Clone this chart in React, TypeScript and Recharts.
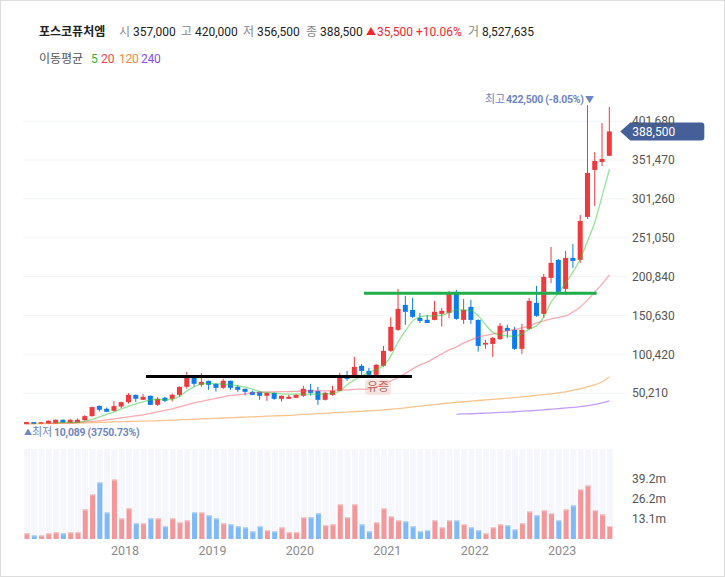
import {
  Bar,
  CartesianGrid,
  ComposedChart,
  Line,
  ReferenceDot,
  ReferenceLine,
  XAxis,
  YAxis,
} from "recharts";

// monthly candles, Nov 2016 - Jul 2023, prices in thousands of won
const months = [
  "2016-11", "2016-12",
  "2017-01", "2017-02", "2017-03", "2017-04", "2017-05", "2017-06", "2017-07", "2017-08", "2017-09", "2017-10", "2017-11", "2017-12",
  "2018-01", "2018-02", "2018-03", "2018-04", "2018-05", "2018-06", "2018-07", "2018-08", "2018-09", "2018-10", "2018-11", "2018-12",
  "2019-01", "2019-02", "2019-03", "2019-04", "2019-05", "2019-06", "2019-07", "2019-08", "2019-09", "2019-10", "2019-11", "2019-12",
  "2020-01", "2020-02", "2020-03", "2020-04", "2020-05", "2020-06", "2020-07", "2020-08", "2020-09", "2020-10", "2020-11", "2020-12",
  "2021-01", "2021-02", "2021-03", "2021-04", "2021-05", "2021-06", "2021-07", "2021-08", "2021-09", "2021-10", "2021-11", "2021-12",
  "2022-01", "2022-02", "2022-03", "2022-04", "2022-05", "2022-06", "2022-07", "2022-08", "2022-09", "2022-10", "2022-11", "2022-12",
  "2023-01", "2023-02", "2023-03", "2023-04", "2023-05", "2023-06", "2023-07",
];
const opens = [
  10.1, 12.8, 10.3, 10.6, 11, 15.8, 11.9, 11.9, 15.4, 20.5, 33.8, 30, 27.4, 32.9, 38.6, 48, 41.6, 46.8, 35.1, 44.2, 42.9,
  48, 58.4, 70, 61, 66.1, 62.3, 57.1, 66.1, 58.4, 55.8, 51.9, 51.9, 46.8, 50.6, 42.9, 42.9, 44.2, 46.8, 54.5, 53.2,
  41.6, 48, 53.2, 72.2, 71.3, 85.5, 79, 73.9, 85.5, 104.9, 132, 164.3, 157.8, 147.5, 144.9, 144.9, 152.7, 154, 181.1, 144.9,
  161.7, 144.9, 113, 113.8, 120, 134.6, 132, 107.5, 133.3, 166.9, 152.7, 199.2, 222.4, 185, 225, 222.4, 278, 338.7, 349, 357,
];
const highs = [
  13, 13, 13, 15, 16.2, 16.2, 16.3, 17.5, 21.8, 32.8, 34.2, 31.6, 39.9, 39.2, 50.2, 48.5, 49, 47, 45, 45.5, 49.7,
  58.8, 77.8, 70.5, 76.1, 66.5, 62.8, 68.7, 66.5, 61, 56.2, 53.6, 52.3, 51, 51, 47.2, 48, 48.8, 59.7, 62.3, 58.4,
  52, 59.7, 76.5, 79, 97.1, 87.7, 82.9, 88.1, 111.3, 148.4, 185, 175.9, 173.3, 154, 151.4, 169.5, 160.4, 182.4, 183.7, 172,
  170.8, 145.5, 119.1, 123, 141, 138.5, 135.9, 139.8, 173.3, 188.8, 204.3, 239.2, 223.7, 234, 243.1, 280.6, 422.5, 361.9, 399.4, 420,
];
const lows = [
  10.1, 10.1, 10.2, 10.5, 10.8, 11.5, 11.5, 11.6, 14.5, 20, 26.5, 25.8, 26.5, 30.9, 36.8, 38.6, 41.2, 34.8, 33.8, 38.6, 39.4,
  45.5, 55.8, 58.8, 58.4, 54.5, 52.3, 55.8, 54.5, 51.9, 47.1, 47.5, 41.6, 40.3, 41.6, 39.4, 42.5, 43.5, 45.5, 47, 35.1,
  40.7, 46.8, 52.8, 66.1, 70.5, 73.9, 73.5, 73, 84.5, 103.6, 130.7, 138.5, 147.5, 141, 140.5, 144.3, 136.3, 147.5, 144.9, 139.8,
  139.8, 104, 107.5, 97.1, 119.1, 121.7, 106.2, 101, 132, 148.8, 147.5, 192.7, 180, 177.2, 212.1, 218.6, 275.4, 292.2, 343.8, 356.5,
];
const closes = [
  12.8, 10.3, 12.6, 14.5, 15.8, 11.9, 15.8, 15.8, 20.5, 32.2, 28.7, 26.1, 33.5, 38.6, 48, 42.9, 45.5, 35.1, 42.9, 40.3, 48,
  58.4, 70, 62.3, 64.8, 61, 57.1, 66.1, 57.1, 54.5, 51.9, 48, 46.8, 50.6, 42.9, 46.8, 45.5, 48, 55.8, 50.6, 41.6,
  50.6, 53.2, 70, 68.7, 84.2, 79, 73.9, 86.8, 104.9, 135.9, 159.1, 155.3, 148.8, 143.6, 141, 155.3, 156.6, 178.5, 146.2, 157.8,
  144.9, 111.3, 115.2, 121.7, 137.2, 130.7, 107.5, 132, 169.5, 150.1, 200.5, 218.6, 181.1, 225, 221.1, 272.8, 334.8, 350.3, 352.9, 388.5,
];

const ma5 = [
  null, null, null, null, 12.1, 12.5, 12.5, 12.8, 13.8, 16.4, 19.6, 22.9, 26.1, 30, 33.2, 36.4, 39, 41.6, 42.2, 41.6, 42.2,
  46.1, 53.2, 58.4, 62.3, 62.9, 62.3, 62, 61, 59.7, 58, 55.4, 52.3, 51, 50.2, 49.3, 49, 49, 49, 49.1, 49,
  49.3, 50, 53.2, 61, 67.4, 72.6, 77.1, 81, 85.5, 98.4, 116.5, 130.7, 143.6, 148.8, 150.1, 150.1, 150.7, 154.6, 157.8, 157.8,
  156.9, 150.1, 138.5, 128.8, 124.9, 124.3, 123.6, 126.8, 133.3, 137.2, 148.8, 168.2, 179.8, 192.7, 206.9, 223.7, 247, 271.5, 305.1, 340,
];
const ma20 = [
  null, null, null, 11.2, 11.9, 11.9, 11.9, 12.5, 13.2, 13.8, 14.5, 15.8, 17.1, 18.3, 19.6, 20.9, 22.2, 24.2, 26.1, 28, 30,
  32.6, 35.1, 37.7, 39.7, 41.6, 43.5, 45.5, 47.4, 48, 49.3, 50.6, 51.3, 51.9, 51.9, 52.3, 52.3, 52.6, 52.8, 53.2, 53.2,
  53.2, 53.9, 54.5, 54.5, 55.2, 55.4, 55.8, 58.4, 61.6, 66.1, 70.7, 75.8, 81.6, 86.8, 90.7, 95.8, 101, 106.2, 110, 115.2,
  119.1, 123, 124.9, 126.8, 128.8, 130.7, 132.7, 134.6, 137.2, 141, 143.6, 146.2, 148.2, 150.1, 155.3, 161.7, 170.8, 181.1, 191.4, 203,
];
const ma120 = [
  10.6, 10.6, 10.7, 10.9, 11, 11.1, 11.2, 11.5, 11.8, 12, 12.4, 12.8, 13, 13.3, 13.6, 13.8, 14.1, 14.3, 14.6, 15, 15.4,
  15.8, 16.1, 16.5, 16.9, 17.3, 17.7, 18.1, 18.5, 18.9, 19.3, 19.6, 20, 20.4, 20.8, 21.2, 21.6, 22.2, 22.7, 23.2, 23.7,
  24.2, 24.8, 25.3, 25.8, 26.3, 26.8, 27.4, 27.9, 28.5, 29.4, 30.3, 31.3, 32.4, 33.4, 34.4, 35.5, 36.5, 37.4, 38.3, 39.1,
  39.9, 40.7, 41.4, 42.2, 43, 43.8, 44.5, 45.3, 46.3, 47.4, 48.4, 49.4, 50.7, 52, 54, 55.9, 58.5, 61, 65, 71.4,
];
const ma240Tail = [
  22.9, 23.3, 23.6, 24, 24.4, 24.8, 25.3, 25.7, 26.2, 26.9, 27.4, 28, 28.7, 29.5, 30.2, 31.1, 31.9, 32.9, 34.1, 35.7, 37.7, 40.3,
];

// volume in millions of shares
const volumes = [
  3.7, 2.4, 2.4, 3.7, 4.4, 3.7, 4.4, 4.4, 19.4, 29.2, 37.1, 17.4, 39, 13.5, 20.1, 10.3, 10.3, 13.5, 13.5, 8.3, 13.5,
  10.9, 12.2, 17.4, 17.4, 15.5, 13.5, 10.3, 9.6, 8.3, 7.6, 5, 8.3, 5.7, 5, 7.6, 4.4, 4.4, 14.2, 14.2, 16.8,
  9, 9.6, 22.7, 14.2, 22.7, 9.6, 5, 10.9, 20.1, 14.8, 12.2, 11.6, 8.3, 5, 5.7, 12.2, 7.6, 12.2, 12.2, 9.6,
  7.6, 5.7, 3.7, 7.6, 9.6, 9, 6.3, 10.3, 18.1, 15.5, 18.8, 16.8, 12.2, 19.4, 22, 32.5, 35.1, 18.8, 16.1, 8.5,
];
const volumeDown = [
  0, 1, 0, 0, 0, 1, 0, 0, 0, 0, 1, 1, 0, 0, 0, 1, 0, 1, 0, 1, 0,
  0, 0, 1, 0, 1, 1, 0, 1, 1, 1, 1, 1, 0, 1, 0, 0, 0, 0, 1, 1,
  0, 0, 0, 0, 0, 1, 1, 0, 0, 0, 0, 1, 1, 1, 1, 0, 0, 0, 1, 0,
  1, 1, 0, 0, 0, 1, 1, 0, 0, 1, 0, 0, 1, 0, 1, 0, 0, 0, 0, 0,
];

const priceTicks = [50210, 100420, 150630, 200840, 251050, 301260, 351470, 401680];
const volumeTicks = [13.1, 26.2, 39.2];
const yearTicks = ["2018-01", "2019-01", "2020-01", "2021-01", "2022-01", "2023-01"];

const FONT = "Roboto, 'Noto Sans CJK KR', sans-serif";
const RED = "#ee3a3d";
const BLUE = "#0b7bef";
const LABEL_BLUE = "#6f86bf";

const priceData = months.map((month, i) => ({
  month,
  open: opens[i] * 1000,
  high: highs[i] * 1000,
  low: lows[i] * 1000,
  close: closes[i] * 1000,
  ma5: ma5[i] === null ? null : ma5[i] * 1000,
  ma20: ma20[i] === null ? null : ma20[i] * 1000,
  ma120: ma120[i] * 1000,
  ma240: i < months.length - ma240Tail.length ? null : ma240Tail[i - (months.length - ma240Tail.length)] * 1000,
}));

const volumeData = months.map((month, i) => ({
  month,
  volume: volumes[i],
  down: volumeDown[i] === 1,
}));

function Candle(props: any) {
  const { x, y, width, height, payload } = props;
  const { open, high, low, close } = payload;
  const perUnit = height / (high - low || 1);
  const top = y + (high - Math.max(open, close)) * perUnit;
  const bodyH = Math.max(Math.abs(open - close) * perUnit, 1);
  const color = close >= open ? RED : BLUE;
  return (
    <g>
      <rect x={x + width / 2 - 0.5} y={y} width={1} height={height} fill={color} />
      <rect x={x} y={top} width={width} height={bodyH} fill={color} />
    </g>
  );
}

function VolumeBar(props: any) {
  const { x, y, width, height, payload } = props;
  const main = payload.down ? "#7fb9f8" : "#f4979a";
  const cap = payload.down ? "#bcdafb" : "#f9cccc";
  return (
    <g>
      <rect x={x + 0.5} y={y} width={width - 1} height={height} fill={main} />
      <rect x={x + 0.5} y={y} width={width - 1} height={1} fill={cap} />
    </g>
  );
}

function PriceTag(props: any) {
  const { cx, cy } = props;
  const left = cx - 7.7;
  return (
    <g>
      <path
        d={`M${left} ${cy} L${left + 10} ${cy - 9} H${left + 81} Q${left + 84} ${cy - 9} ${left + 84} ${cy - 6} V${cy + 6} Q${left + 84} ${cy + 9} ${left + 81} ${cy + 9} H${left + 10} Z`}
        fill="#455f99"
      />
      <text x={left + 12} y={cy + 4.5} fill="#fff" fontSize={12} fontFamily={FONT}>
        388,500
      </text>
    </g>
  );
}

function YearTick(props: any) {
  const { x, y, payload } = props;
  return (
    <text x={x - 3.6} y={y + 8} textAnchor="middle" fill="#8c8c8c" fontSize={12.5} fontFamily={FONT}>
      {payload.value.slice(0, 4)}
    </text>
  );
}

function Label(props: { left: number; top: number; color?: string; bold?: boolean; size?: number; tight?: number; children: any }) {
  return (
    <span
      style={{
        position: "absolute",
        left: props.left,
        top: props.top,
        color: props.color ?? "#222",
        fontWeight: props.bold ? 700 : 400,
        fontSize: props.size ?? 12,
        letterSpacing: props.tight ?? 0,
        lineHeight: "16px",
        whiteSpace: "nowrap",
      }}
    >
      {props.children}
    </span>
  );
}

export default function App() {
  return (
    <div
      style={{
        position: "absolute",
        left: 0,
        top: 0,
        width: 725,
        height: 577,
        boxSizing: "border-box",
        border: "1px solid #dddddd",
        overflow: "hidden",
        background: "#fff",
        fontFamily: FONT,
      }}
    >
      <div style={{ position: "absolute", left: -1, top: -1, width: 725, height: 577 }}>
        <ComposedChart
          width={725}
          height={440}
          data={priceData}
          margin={{ top: 100, right: 0, bottom: 8, left: 23 }}
          style={{ position: "absolute", left: 0, top: 0 }}
        >
          <CartesianGrid vertical={false} stroke="#f2f4f8" horizontalValues={priceTicks} />
          <XAxis dataKey="month" hide padding={{ left: 0, right: 14.9 }} />
          {/* runs 0-80 across the whole plot width, used only for the drawn lines and the price tag */}
          <XAxis xAxisId="idx" type="number" hide domain={[0, 80]} />
          <YAxis
            orientation="right"
            width={97}
            domain={[0, 429100]}
            ticks={priceTicks}
            interval={0}
            axisLine={false}
            tickLine={false}
            tickSize={0}
            tickMargin={4}
            tick={{ fill: "#555", fontSize: 12, fontFamily: FONT }}
            tickFormatter={(v) => Number(v).toLocaleString("en-US")}
          />
          <Bar
            dataKey={(d: any) => [d.low, d.high]}
            barSize={5}
            shape={Candle}
            isAnimationActive={false}
          />
          <Line dataKey="ma120" type="monotone" stroke="#f58a24" strokeOpacity={0.5} strokeWidth={1.3} dot={false} isAnimationActive={false} />
          <Line dataKey="ma240" type="monotone" stroke="#8a3cf0" strokeOpacity={0.5} strokeWidth={1.3} dot={false} isAnimationActive={false} />
          <Line dataKey="ma20" type="monotone" stroke="#ff5560" strokeOpacity={0.5} strokeWidth={1.3} dot={false} isAnimationActive={false} />
          <Line dataKey="ma5" type="monotone" stroke="#2cc92c" strokeOpacity={0.5} strokeWidth={1.3} dot={false} isAnimationActive={false} />
          <ReferenceLine
            xAxisId="idx"
            segment={[{ x: 16.26, y: 71700 }, { x: 51.44, y: 71700 }]}
            stroke="#000"
            strokeWidth={3}
          />
          <ReferenceLine
            xAxisId="idx"
            segment={[{ x: 45.09, y: 179400 }, { x: 75.86, y: 179400 }]}
            stroke="#1fae4b"
            strokeWidth={3}
          />
          <ReferenceDot xAxisId="idx" x={80} y={388500} r={0} shape={PriceTag} />
        </ComposedChart>

        <ComposedChart
          width={725}
          height={137}
          data={volumeData}
          margin={{ top: 9, right: 0, bottom: 0, left: 23 }}
          style={{ position: "absolute", left: 0, top: 440 }}
        >
          <XAxis
            dataKey="month"
            ticks={yearTicks}
            interval={0}
            height={38}
            padding={{ left: 0, right: 14.9 }}
            axisLine={false}
            tickLine={false}
            tick={YearTick}
          />
          <YAxis
            orientation="right"
            width={97}
            domain={[0, 59]}
            ticks={volumeTicks}
            interval={0}
            axisLine={false}
            tickLine={false}
            tickSize={0}
            tickMargin={4}
            tick={{ fill: "#555", fontSize: 12, fontFamily: FONT }}
            tickFormatter={(v) => `${Number(v).toFixed(1)}m`}
          />
          <Bar
            dataKey="volume"
            barSize={6}
            background={{ fill: "#f6f7fc" }}
            shape={VolumeBar}
            isAnimationActive={false}
          />
        </ComposedChart>

        <Label left={39} top={24} bold>포스코퓨처엠</Label>
        <Label left={119} top={24} color="#888">시</Label>
        <Label left={133} top={24}>357,000</Label>
        <Label left={181} top={24} color="#888">고</Label>
        <Label left={195} top={24}>420,000</Label>
        <Label left={243} top={24} color="#888">저</Label>
        <Label left={257} top={24}>356,500</Label>
        <Label left={306} top={24} color="#888">종</Label>
        <Label left={320} top={24}>388,500</Label>
        <Label left={366} top={24} color="#f0282d" size={10}>▲</Label>
        <Label left={377} top={24} color="#f0282d">35,500</Label>
        <Label left={416} top={24} color="#f0282d">+10.06%</Label>
        <Label left={468} top={24} color="#888">거</Label>
        <Label left={482} top={24}>8,527,635</Label>

        <Label left={39} top={51} color="#555">이동평균</Label>
        <Label left={91} top={51} color="#35b535">5</Label>
        <Label left={101} top={51} color="#f3434a">20</Label>
        <Label left={119} top={51} color="#f58a3c" tight={-0.3}>120</Label>
        <Label left={141} top={51} color="#8a4cf0" tight={-0.3}>240</Label>

        <Label left={485} top={92} color={LABEL_BLUE} size={11}>최고</Label>
        <Label left={506} top={92} color={LABEL_BLUE} size={10.5} tight={-0.25} bold>422,500 (-8.05%)</Label>
        <Label left={585} top={92} color={LABEL_BLUE} size={9}>▼</Label>

        <Label left={24} top={425} color={LABEL_BLUE} size={8}>▲</Label>
        <Label left={32} top={425} color={LABEL_BLUE} size={11}>최저</Label>
        <Label left={54} top={425} color={LABEL_BLUE} size={10.5} tight={-0.25} bold>10,089 (3750.73%)</Label>

        <div
          style={{
            position: "absolute",
            left: 365,
            top: 379,
            width: 26,
            height: 16,
            borderRadius: 4,
            background: "rgba(240,170,160,0.3)",
            color: "#b26a64",
            fontSize: 12,
            lineHeight: "16px",
            textAlign: "center",
          }}
        >
          유증
        </div>
      </div>
    </div>
  );
}
